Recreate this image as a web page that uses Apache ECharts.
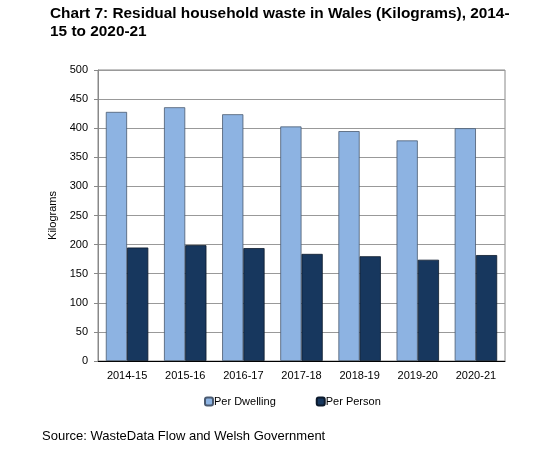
<!DOCTYPE html>
<html lang="en">
<head>
    <meta charset="UTF-8">
    <script src="https://cdn.jsdelivr.net/npm/echarts@6/dist/echarts.min.js"></script>
    <style>
        html, body { margin: 0; padding: 0; background: #fff; }
        #pic { width: 537px; height: 454px; }
    </style>
    <title>Chart 7</title>
</head>
<body>
<div id="pic"></div>
<script type="text/javascript">
    var years = ['2014-15', '2015-16', '2016-17', '2017-18', '2018-19', '2019-20', '2020-21'];
    var perDwelling = [428, 436, 424, 403, 395, 379, 400];
    var perPerson = [195, 199, 194, 184, 180, 174, 182];

    var myChart = echarts.init(document.getElementById('pic'));
    var font = 'Liberation Sans, Arial, sans-serif';

    var option = {
        animation: false,
        textStyle: { fontFamily: font },
        title: [
            {
                text: 'Chart 7: Residual household waste in Wales (Kilograms), 2014-\n15 to 2020-21',
                left: 45, top: 0,
                textStyle: { fontSize: 15.4, fontWeight: 'bold', color: '#000', lineHeight: 18, fontFamily: font }
            },
            {
                text: 'Source: WasteData Flow and Welsh Government',
                left: 37, top: 425,
                textStyle: { fontSize: 13, fontWeight: 'normal', color: '#000', fontFamily: font }
            }
        ],
        legend: {
            top: 391, left: 199,
            itemWidth: 8, itemHeight: 8, itemGap: 40,
            textStyle: { fontSize: 11, color: '#000', padding: [0, 0, 0, -4] },
            data: ['Per Dwelling', 'Per Person']
        },
        grid: { left: 98, right: 32, top: 70, bottom: 93 },
        xAxis: {
            type: 'category',
            data: years,
            axisLine: { lineStyle: { color: '#000', width: 1 } },
            axisTick: { show: false },
            axisLabel: { color: '#000', fontSize: 11, margin: 9 }
        },
        yAxis: {
            type: 'value',
            min: 0, max: 500, interval: 50,
            name: 'Kilograms',
            nameLocation: 'middle',
            nameGap: 37,
            nameTextStyle: { fontSize: 11, color: '#000' },
            axisLine: { show: true, lineStyle: { color: '#888' } },
            axisTick: { show: true, length: 4, lineStyle: { color: '#888' } },
            axisLabel: { color: '#000', fontSize: 11, margin: 10 },
            splitLine: { lineStyle: { color: '#999', width: 1 } }
        },
        series: [
            {
                name: 'Per Dwelling',
                type: 'bar',
                data: perDwelling,
                barGap: '0%',
                barCategoryGap: '27%',
                itemStyle: { color: '#8DB3E2', borderColor: '#4a5a70', borderWidth: 0.8 }
            },
            {
                name: 'Per Person',
                type: 'bar',
                data: perPerson,
                itemStyle: { color: '#17375E', borderColor: '#0c1a2c', borderWidth: 0.8 }
            }
        ],
        graphic: [
            {
                type: 'rect',
                shape: { x: 98, y: 70, width: 407, height: 291 },
                style: { fill: 'none', stroke: '#888', lineWidth: 1 },
                silent: true, z: -1
            }
        ]
    };

    option && myChart.setOption(option);
</script>
</body>
</html>
